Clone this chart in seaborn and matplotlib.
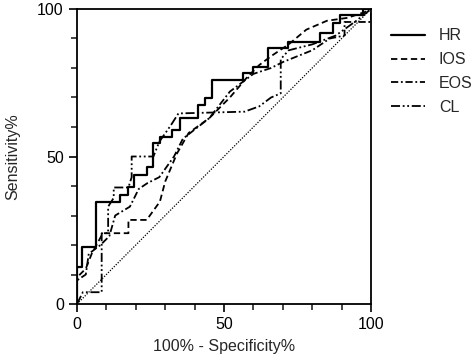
import numpy as np
import pandas as pd
import seaborn as sns
import matplotlib.pyplot as plt
from matplotlib.ticker import MultipleLocator

# ROC curves (100% - specificity, sensitivity)
hr_x = [0, 0, 1.8, 1.8, 6.3, 6.3, 14.6, 14.6, 17.5, 17.5, 19.5, 19.5, 23.7, 23.7,
        25.7, 25.7, 28.2, 28.2, 32.2, 32.2, 35, 35, 41.3, 41.3, 43.5, 43.5, 45.8,
        45.8, 56.6, 56.6, 60, 60, 65, 65, 71.9, 71.9, 82.7, 82.7, 87.2, 87.2,
        89.5, 89.5, 97.4, 97.4, 100]
hr_y = [0, 12.6, 12.6, 19.4, 19.4, 34.7, 34.7, 37, 37, 39.8, 39.8, 43.7, 43.7,
        46.5, 46.5, 54.5, 54.5, 56.7, 56.7, 59, 59, 63, 63, 67.5, 67.5, 69.7,
        69.7, 76, 76, 78.2, 78.2, 80.4, 80.4, 86.7, 86.7, 88.9, 88.9, 91.8,
        91.8, 95.2, 95.2, 98, 98, 100, 100]

ios_x = [0, 0, 3, 5, 8.8, 17.5, 17.5, 23.7, 28.2, 30, 34, 38, 45, 52, 58, 62,
         66, 72, 78, 85, 92, 98, 100]
ios_y = [0, 9, 12, 17, 24, 24, 28.5, 28.5, 34.7, 41.5, 51, 58, 63, 70, 77, 81,
         84, 88, 93, 96, 97, 99, 100]

eos_x = [0, 0, 3, 4, 8, 11, 13, 18, 21, 24, 28, 33, 36, 45, 52, 56, 60, 66, 70,
         75, 80, 86, 91, 91, 100, 100]
eos_y = [0, 8, 10, 17, 20, 23, 30, 33, 39, 41, 43, 50, 56, 63, 72, 75, 78, 80,
         82, 84, 86, 90, 91, 95.6, 95.6, 100]

cl_x = [0, 2, 8.4, 8.4, 10.6, 10.6, 12.5, 12.5, 17.5, 18.6, 18.6, 26, 28, 32,
        34.5, 57, 62, 66, 69.3, 69.3, 72, 80, 88, 95, 100]
cl_y = [0, 4, 4, 24, 24, 33, 36, 39.5, 39.5, 43, 50, 50, 55, 60.7, 64.6, 65.2,
        67, 70, 71.4, 83, 86, 88, 91, 96, 100]

ref_line = [0, 100]

sns.set_style("ticks")
plt.rcParams['font.family'] = ['Liberation Sans', 'DejaVu Sans']

fig = plt.figure(figsize=(4.74, 3.64), dpi=100)
ax = fig.add_axes([0.1624, 0.1648, 0.6203, 0.8105])

curves = [
    ("HR", hr_x, hr_y, "-", 1.6),
    ("IOS", ios_x, ios_y, (0, (3.5, 2)), 1.3),
    ("EOS", eos_x, eos_y, (0, (4, 1.5, 1, 1.5)), 1.3),
    ("CL", cl_x, cl_y, (0, (5, 1.5, 1, 1.5, 1, 1.5)), 1.3),
]
for name, xs, ys, ls, lw in curves:
    sns.lineplot(x=xs, y=ys, sort=False, estimator=None, ax=ax, color="black",
                 linestyle=ls, linewidth=lw, label=name)

sns.lineplot(x=ref_line, y=ref_line, ax=ax, color="black", linestyle=(0, (1, 1.2)),
             linewidth=0.9)

ax.set_xlim(0, 100)
ax.set_ylim(0, 100)
ax.xaxis.set_major_locator(MultipleLocator(50))
ax.yaxis.set_major_locator(MultipleLocator(50))
ax.xaxis.set_minor_locator(MultipleLocator(10))
ax.yaxis.set_minor_locator(MultipleLocator(10))
ax.tick_params(which="major", length=6, width=1.2, labelsize=11.5, colors="black")
ax.tick_params(which="minor", length=4, width=1.2)
for sp in ax.spines.values():
    sp.set_linewidth(1.3)
    sp.set_color("black")

ax.set_xlabel("100% - Specificity%", fontsize=11.5, labelpad=5)
ax.set_ylabel("Sensitivity%", fontsize=11.5, labelpad=12)

ax.legend(loc="upper left", bbox_to_anchor=(1.03, 0.972), frameon=False,
          fontsize=11.5, handlelength=2.1, labelspacing=0.55, handletextpad=0.9,
          borderaxespad=0.3)

fig.savefig("out.png", dpi=100)
